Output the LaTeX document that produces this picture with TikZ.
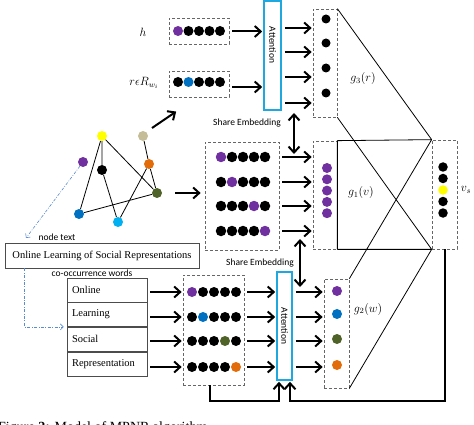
\documentclass[tikz,border=0pt]{standalone}
\usepackage{fontspec}
\setmainfont{Liberation Serif}
\newfontfamily\labelfont{Carlito}
\usepackage{tikz}
\usetikzlibrary{arrows.meta,positioning,calc}
\definecolor{dotpurple}{HTML}{7030A0}
\definecolor{dotblue}{HTML}{0070C0}
\definecolor{dotgreen}{HTML}{4F6228}
\definecolor{dotorange}{HTML}{E36C0A}
\definecolor{dotyellow}{HTML}{FFFF00}
\definecolor{dottan}{HTML}{C4BD97}
\definecolor{dotcyan}{HTML}{00B0F0}
\definecolor{attncol}{HTML}{1FA8E0}
\definecolor{linkblue}{HTML}{5B8BD0}
\tikzset{
  dashbox/.style={draw=black!60, dash pattern=on 3pt off 2pt, line width=0.7pt, inner sep=0pt},
  dot/.style={circle, fill=black, inner sep=0pt, minimum size=10pt},
  arr/.style={line width=2pt, shorten <=3pt, shorten >=1pt, -{Straight Barb[length=6pt,width=11pt]}},
  darr/.style={line width=2pt, {Straight Barb[length=6pt,width=11pt]}-{Straight Barb[length=6pt,width=11pt]}},
  attn/.style={draw=attncol, line width=1.6pt, inner sep=0pt},
  wordbox/.style={draw=black!70, line width=0.6pt, minimum width=80pt, minimum height=24pt, text width=70pt, align=left, inner xsep=5pt, font=\fontsize{10.5}{12}\selectfont},
  lbl/.style={font=\labelfont\fontsize{9.5}{11}\selectfont},
  link/.style={draw=linkblue, line width=0.6pt, dash pattern=on 3pt off 1.5pt on 0.8pt off 1.5pt, -{Straight Barb[length=3pt,width=6pt]}},
  edge/.style={line width=0.8pt},
  cross/.style={line width=0.8pt}
}
\begin{document}
\begin{tikzpicture}[x=1pt,y=-1pt]
\clip (0,0) rectangle (474,425);
\foreach \n/\c/\x/\y in {gY/dotyellow/102/136, gT/dottan/143/136, gP/dotpurple/83/162, gK/black/102/170, gO/dotorange/149/164, gG/dotgreen/157/193, gB/dotblue/79/214, gC/dotcyan/118/222}
  \node[dot, fill=\c] (\n) at (\x,\y) {};
\draw[edge] (gY) -- (gB) (gY) -- (gK) (gY) -- (gG) (gK) -- (gC) (gC) -- (gO) (gO) -- (gT) (gO) -- (gG) (gB) -- (gG);

\node[draw=black!70, line width=0.6pt, minimum width=194pt, minimum height=25pt, font=\fontsize{10.5}{12}\selectfont] (ptext) at (102,255.5) {Online Learning of Social Representations};
\node[lbl] (ntlbl) at (57,237) {node text};
\node[lbl] (colbl) at (92,273) {co-occurrence words};
\node[wordbox] (w1) at (107,290) {Online};
\node[wordbox, below=0pt of w1] (w2) {Learning};
\node[wordbox, below=0pt of w2] (w3) {Social};
\node[wordbox, below=0pt of w3] (w4) {Representation};
\coordinate (lnkA) at (26,238);
\draw[link] (gP) -- (lnkA);
\draw[link, shorten >=3pt] ([xshift=20pt]ptext.south west) |- (w2.south west);

\node[font=\fontsize{12}{14}\selectfont] (hlbl) at (143,32) {$h$};
\node[font=\fontsize{12}{14}\selectfont] (rlbl) at (144,83) {$r\epsilon R_{w_i}$};
\node[dashbox, minimum width=60pt, minimum height=26pt] (hbox) at (199,31.5) {};
\foreach \c [count=\i] in {dotpurple,black,black,black,black}
  \node[dot, fill=\c] (h\i) at (167.5+10.5*\i,31) {};
\node[dashbox, minimum width=60pt, minimum height=26pt] (rbox) at (199,84) {};
\foreach \c [count=\i] in {black,dotblue,black,black,black}
  \node[dot, fill=\c] (r\i) at (167.5+10.5*\i,82) {};

\node[attn, minimum width=17pt, minimum height=109pt] (attn1) at (272.5,55.5) {};
\node[lbl, rotate=-90] (attnlbl1) at (272.5,45) {Attention};
\node[attn, minimum width=15pt, minimum height=108pt] (attn2) at (284.5,326) {};
\node[lbl, rotate=-90] (attnlbl2) at (284.5,326) {Attention};

\node[dashbox, minimum width=74pt, minimum height=108pt] (mid) at (242,196) {};
\foreach \y/\p [count=\r] in {157/1,182/2,206/4,231/5}
  \foreach \i in {1,...,5}{
    \ifnum\i=\p\def\dc{dotpurple}\else\def\dc{black}\fi
    \node[dot, fill=\dc, minimum size=10.5pt] (m\r\i) at (210+11*\i,\y) {};
  }
\node[dashbox, minimum width=61pt, minimum height=110pt] (wemb) at (213.5,330) {};
\foreach \y/\p/\pc [count=\r] in {292/1/dotpurple,317/2/dotblue,341/4/dotgreen,367/5/dotorange}
  \foreach \i in {1,...,5}{
    \ifnum\i=\p\def\dc{\pc}\else\def\dc{black}\fi
    \node[dot, fill=\dc] (e\r\i) at (181+11*\i,\y) {};
  }

\node[dashbox, minimum width=24pt, minimum height=108pt] (g3) at (325,63) {};
\foreach \y [count=\i] in {19,43,68,93}
  \node[dot, minimum size=9pt] (gr\i) at (326,\y) {};
\node[dashbox, minimum width=24pt, minimum height=108pt] (g1) at (325,195) {};
\foreach \y [count=\i] in {168,179.3,190.6,201.9,213.2}
  \node[dot, fill=dotpurple] (gv\i) at (327,\y) {};
\node[dashbox, minimum width=25pt, minimum height=109pt] (g2) at (336.5,333.5) {};
\foreach \y/\c [count=\i] in {291/dotpurple,314/dotblue,339/dotgreen,365/dotorange}
  \node[dot, fill=\c] (gw\i) at (337,\y) {};
\node[dashbox, minimum width=25pt, minimum height=109pt] (vs) at (444.5,194.5) {};
\foreach \y/\c [count=\i] in {167/black,178.5/black,190/dotyellow,201.5/black,213/black}
  \node[dot, fill=\c, minimum size=9.5pt] (vs\i) at (443,\y) {};

\draw[cross] (g3.north east) -- (vs.north west) (g3.south east) -- (vs.south west)
  (g1.north east) -- (vs.north west) (g1.south east) -- (vs.south west) (g1.north east) -- (g1.south east)
  (g2.north east) -- (vs.north west) (g2.south east) -- (vs.south west);

\node[font=\fontsize{12}{14}\selectfont] (g3lbl) at (363,79) {$g_3(r)$};
\node[font=\fontsize{12}{14}\selectfont] (g1lbl) at (361,193) {$g_1(v)$};
\node[font=\fontsize{12}{14}\selectfont] (g2lbl) at (368,309) {$g_2(w)$};
\node[font=\fontsize{12}{14}\selectfont] (vslbl) at (466,190) {$v_s$};

\draw[arr] (hbox.east) -- (attn1.west |- hbox.east);
\draw[arr] (rbox.east |- 0,87) -- (attn1.west |- 0,87);
\foreach \y in {28,52,77,103}
  \draw[arr] (attn1.east |- 0,\y) -- (g3.west |- 0,\y);
\coordinate (upA) at (152,128);
\coordinate (upB) at (177,111);
\draw[arr, shorten <=0pt] (upA) -- (upB);
\draw[arr, shorten <=13pt, shorten >=4pt] (gG) -- (mid.west |- gG);
\foreach \r in {1,...,4}
  \draw[arr] (mid.east |- m\r1) -- (g1.west |- m\r1);
\foreach \r in {1,...,4}{
  \draw[arr] (w1.east |- e\r1) -- (wemb.west |- e\r1);
  \draw[arr] (wemb.east |- e\r1) -- (attn2.west |- e\r1);
  \draw[arr] (attn2.east |- e\r1) -- (g2.west |- e\r1);
}

\coordinate (se1a) at (294,113);
\coordinate (se1b) at (294,154);
\draw[darr] (se1a) -- (se1b);
\node[lbl] (se1) at (247,123) {Share Embedding};
\coordinate (se2a) at (300,239);
\coordinate (se2b) at (300,287);
\draw[darr] (se2a) -- (se2b);
\node[lbl] (se2) at (260,263) {Share Embedding};

\coordinate (fbL) at (210,401);
\draw[arr, shorten <=0pt] (wemb.south -| fbL) -- (fbL) -| ([xshift=-5.5pt]attn2.south);
\draw[arr, shorten <=0pt] (vs.south) -- (vs.south |- fbL) -| ([xshift=5.5pt]attn2.south);

\node[anchor=base west, inner sep=0pt, font=\fontsize{14}{16}\selectfont] (cap) at (-2,431) {Figure \textbf{2:} Model of MPNR algorithm};
\end{tikzpicture}
\end{document}
